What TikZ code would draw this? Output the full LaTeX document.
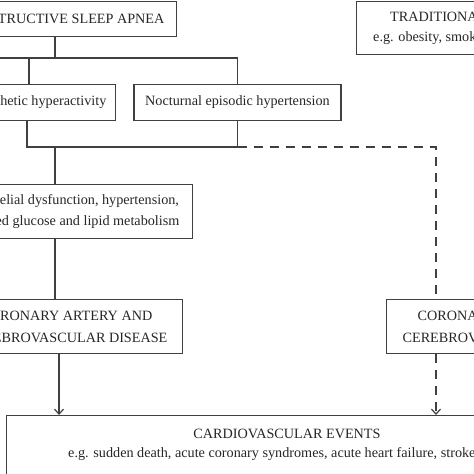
\documentclass[tikz,border=0pt]{standalone}
\usepackage{fontspec}
\setmainfont{Liberation Serif}
\usetikzlibrary{arrows.meta}
\tikzset{
  box/.style={draw=black!75, line width=1.2pt, rectangle, inner ysep=0pt, text=black!85,
    font=\fontsize{14.2}{21}\selectfont, align=center},
  boxtext/.style={inner sep=0pt, text=black!85, font=\fontsize{14.2}{21}\selectfont},
  link/.style={draw=black!75, line width=1.2pt},
  dashlink/.style={link, dash pattern=on 9pt off 7pt},
  >={Straight Barb[length=5pt,width=9pt]}
}
\begin{document}
\begin{tikzpicture}[x=1pt,y=-1pt]
	\useasboundingbox (0,0) rectangle (474,474);
	\clip (0,0) rectangle (474,474);
	% boxes
	\node [box, anchor=north east, inner xsep=12pt, minimum height=35pt] at (177, 1) (osa) {OBSTRUCTIVE SLEEP APNEA};
	\node [box, anchor=north east, inner xsep=9pt, minimum height=36pt] at (116, 84) (symp) {Sympathetic hyperactivity};
	\node [box, anchor=north, minimum width=207pt, minimum height=36pt] at (237.5, 84) (noct) {Nocturnal episodic hypertension};
	\node [box, anchor=north east, inner xsep=13pt, minimum height=54pt] at (193, 184) (endo) {Endothelial dysfunction, hypertension,\\impaired glucose and lipid metabolism};
	\node [box, anchor=north east, inner xsep=15pt, minimum height=54pt, font=\fontsize{14.2}{22}\selectfont] at (183, 299) (cadl) {CORONARY ARTERY AND\\CEREBROVASCULAR DISEASE};
	\node [box, anchor=north west, inner xsep=16pt, minimum height=54pt, font=\fontsize{14.2}{22}\selectfont] at (386, 299) (cadr) {CORONARY ARTERY AND\\CEREBROVASCULAR DISEASE};
	\node [box, anchor=north west, minimum width=200pt, minimum height=53pt] at (356, 1) (trad) {};
	\node [boxtext, anchor=base west] at (390, 21) (tradtitle) {TRADITIONAL};
	\node [boxtext, anchor=base west] at (373, 41) (tradlist) {e.g. obesity, smoking};
	\node [box, anchor=north west, minimum width=560pt, minimum height=80pt] at (6, 415) (cv) {};
	\node [boxtext, anchor=base] at (287, 438) (cvtitle) {CARDIOVASCULAR EVENTS};
	\node [boxtext, anchor=base west] at (68, 457) (cvlist) {e.g. sudden death, acute coronary syndromes, acute heart failure, stroke};
	% junctions
	\coordinate (f0) at (-30, 58);
	\coordinate (f1) at (55, 58);
	\coordinate (f2) at (29, 58);
	\coordinate (m1) at (27, 147);
	\coordinate (m2) at (55, 147);
	\coordinate (m3) at (436, 147);
	\coordinate (a1) at (59, 380);
	% connectors
	\draw [link] (osa.south -| f1) -- (f1);
	\draw [link] (f0) -- (f1 -| noct.north) -- (noct.north);
	\draw [link] (f2) -- (f2 |- symp.north);
	\draw [link] (m1 |- symp.south) -- (m1) -- (m1 -| noct.south) -- (noct.south);
	\draw [dashlink] (m1 -| noct.south) -- (m3) -- (m3 |- cadr.north);
	\draw [link] (m2) -- (m2 |- endo.north);
	\draw [link] (endo.south -| m2) -- (m2 |- cadl.north);
	\draw [link, ->] (cadl.south -| a1) -- (a1 |- cv.north);
	\draw [dashlink, ->] (cadr.south -| m3) -- (m3 |- cv.north);
\end{tikzpicture}
\end{document}
